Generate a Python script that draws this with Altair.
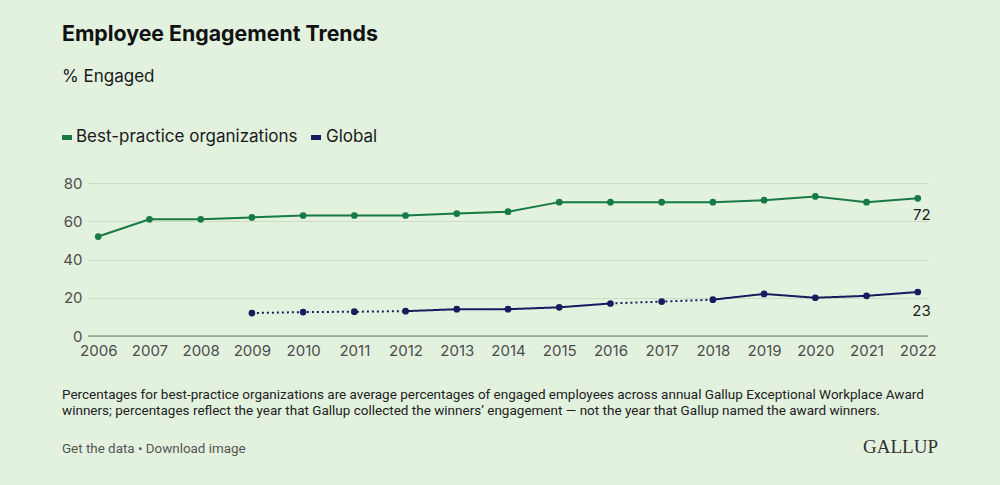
import altair as alt
import pandas as pd

# Series values (% engaged)
years = [str(y) for y in range(2006, 2023)]
best_practice = [52, 61, 61, 62, 63, 63, 63, 64, 65, 70, 70, 70, 70, 71, 73, 70, 72]

global_years = [str(y) for y in range(2009, 2023)]
global_values = [12, 12.5, 12.7, 13, 14, 14, 15, 17, 18, 19, 22, 20, 21, 23]

# Global line segments: (start year, end year, dotted?)
global_segments = [("2009", "2012", True), ("2012", "2016", False),
                   ("2016", "2018", True), ("2018", "2022", False)]

y_ticks = [0, 20, 40, 60, 80]

series_names = ["Best-practice organizations", "Global"]
series_colors = ["#177a45", "#181b5c"]

title_text = "Employee Engagement Trends"
subtitle_text = "% Engaged"
note_lines = [
    "Percentages for best-practice organizations are average percentages of engaged employees across annual Gallup Exceptional Workplace Award",
    "winners; percentages reflect the year that Gallup collected the winners\u2019 engagement \u2014 not the year that Gallup named the award winners.",
]
links_text = "Get the data \u2022 Download image"
brand_text = "GALLUP"

BG = "#e3f1df"
FONT = "Inter"

bp_df = pd.DataFrame({"year": years, "value": best_practice})
gl_df = pd.DataFrame({"year": global_years, "value": global_values})

seg_rows = []
for i, (a, b, dotted) in enumerate(global_segments):
    ia, ib = global_years.index(a), global_years.index(b)
    for j in range(ia, ib + 1):
        seg_rows.append({"year": global_years[j], "value": global_values[j],
                         "seg": i, "style": "dotted" if dotted else "solid"})
seg_df = pd.DataFrame(seg_rows)

x_scale = alt.Scale(type="point", domain=years, padding=0.2)
y_scale = alt.Scale(domain=[0, 80])

# Same axis definition on every layer so the merged axes stay consistent
x_axis = alt.Axis(title=None, labelAngle=0, ticks=False, domain=False,
                  labelFontSize=15, labelColor="#4d4d4d", labelFont=FONT,
                  labelPadding=7, grid=False)
y_axis = alt.Axis(title=None, values=y_ticks, ticks=False, domain=False,
                  labelFontSize=15, labelColor="#4d4d4d", labelFont=FONT,
                  labelPadding=6, gridColor="#cbdcc7", gridWidth=1,
                  labelOverlap=False)
x_enc = alt.X("year:O", scale=x_scale, axis=x_axis)
y_enc = alt.Y("value:Q", scale=y_scale, axis=y_axis)

base_bp = alt.Chart(bp_df)
bp_line = base_bp.mark_line(color=series_colors[0], strokeWidth=2).encode(x=x_enc, y=y_enc)
bp_pts = base_bp.mark_circle(color=series_colors[0], size=45, opacity=1).encode(
    x=x_enc, y=y_enc)
bp_last = alt.Chart(bp_df.tail(1)).mark_text(
    align="right", dx=13, dy=17, fontSize=15, font=FONT, color="#222222"
).encode(x=x_enc, y=y_enc, text=alt.Text("value:Q", format="d"))

gl_lines = alt.Chart(seg_df).mark_line(color=series_colors[1], strokeWidth=2).encode(
    x=x_enc, y=y_enc, detail="seg:N",
    strokeDash=alt.StrokeDash("style:N", scale=alt.Scale(domain=["solid", "dotted"],
                                                          range=[[1, 0], [2, 3]]),
                              legend=None))
gl_pts = alt.Chart(gl_df).mark_circle(color=series_colors[1], size=45, opacity=1).encode(
    x=x_enc, y=y_enc)
gl_last = alt.Chart(gl_df.tail(1)).mark_text(
    align="right", dx=13, dy=19, fontSize=15, font=FONT, color="#222222"
).encode(x=x_enc, y=y_enc, text=alt.Text("value:Q", format="d"))

zero_rule = alt.Chart(pd.DataFrame({"value": [0]})).mark_rule(
    color="#6f7a6c", strokeWidth=1).encode(y=y_enc, x=alt.value(0), x2=alt.value(840))

one = pd.DataFrame({"k": [0]})


def label(text, x, y, size, color="#111111", weight="normal", font=FONT, align="left"):
    return alt.Chart(one).mark_text(
        text=text, align=align, baseline="middle", fontSize=size, fontWeight=weight,
        font=font, color=color).encode(x=alt.value(x), y=alt.value(y))


def swatch(x, color):
    return alt.Chart(one).mark_rect(color=color).encode(
        x=alt.value(x), x2=alt.value(x + 10), y=alt.value(-48), y2=alt.value(-43))


texts = [
    label(title_text, -26, -148, 21.3, weight="bold"),
    label(subtitle_text, -26, -106, 17, color="#1a1a1a"),
    swatch(-26, series_colors[0]),
    label(series_names[0], -12, -46, 17, color="#1a1a1a"),
    swatch(223, series_colors[1]),
    label(series_names[1], 238, -46, 17, color="#1a1a1a"),
    label(note_lines[0], -26, 212, 13.5, color="#222222", font="Roboto"),
    label(note_lines[1], -26, 228, 13.5, color="#222222", font="Roboto"),
    label(links_text, -26, 266, 13.4, color="#555555", font="Roboto"),
    label(brand_text, 850, 264, 19, color="#333333", font="Liberation Serif", align="right"),
]

chart = alt.layer(
    bp_line, zero_rule, gl_lines, bp_pts, gl_pts, bp_last, gl_last, *texts
).properties(
    width=840, height=153,
    autosize=alt.AutoSizeParams(type="none"),
    padding={"left": 88, "top": 183, "right": 72, "bottom": 149},
    background=BG,
).configure_view(strokeWidth=0)

chart.save("out.html", embed_options={"renderer": "svg", "actions": False})
